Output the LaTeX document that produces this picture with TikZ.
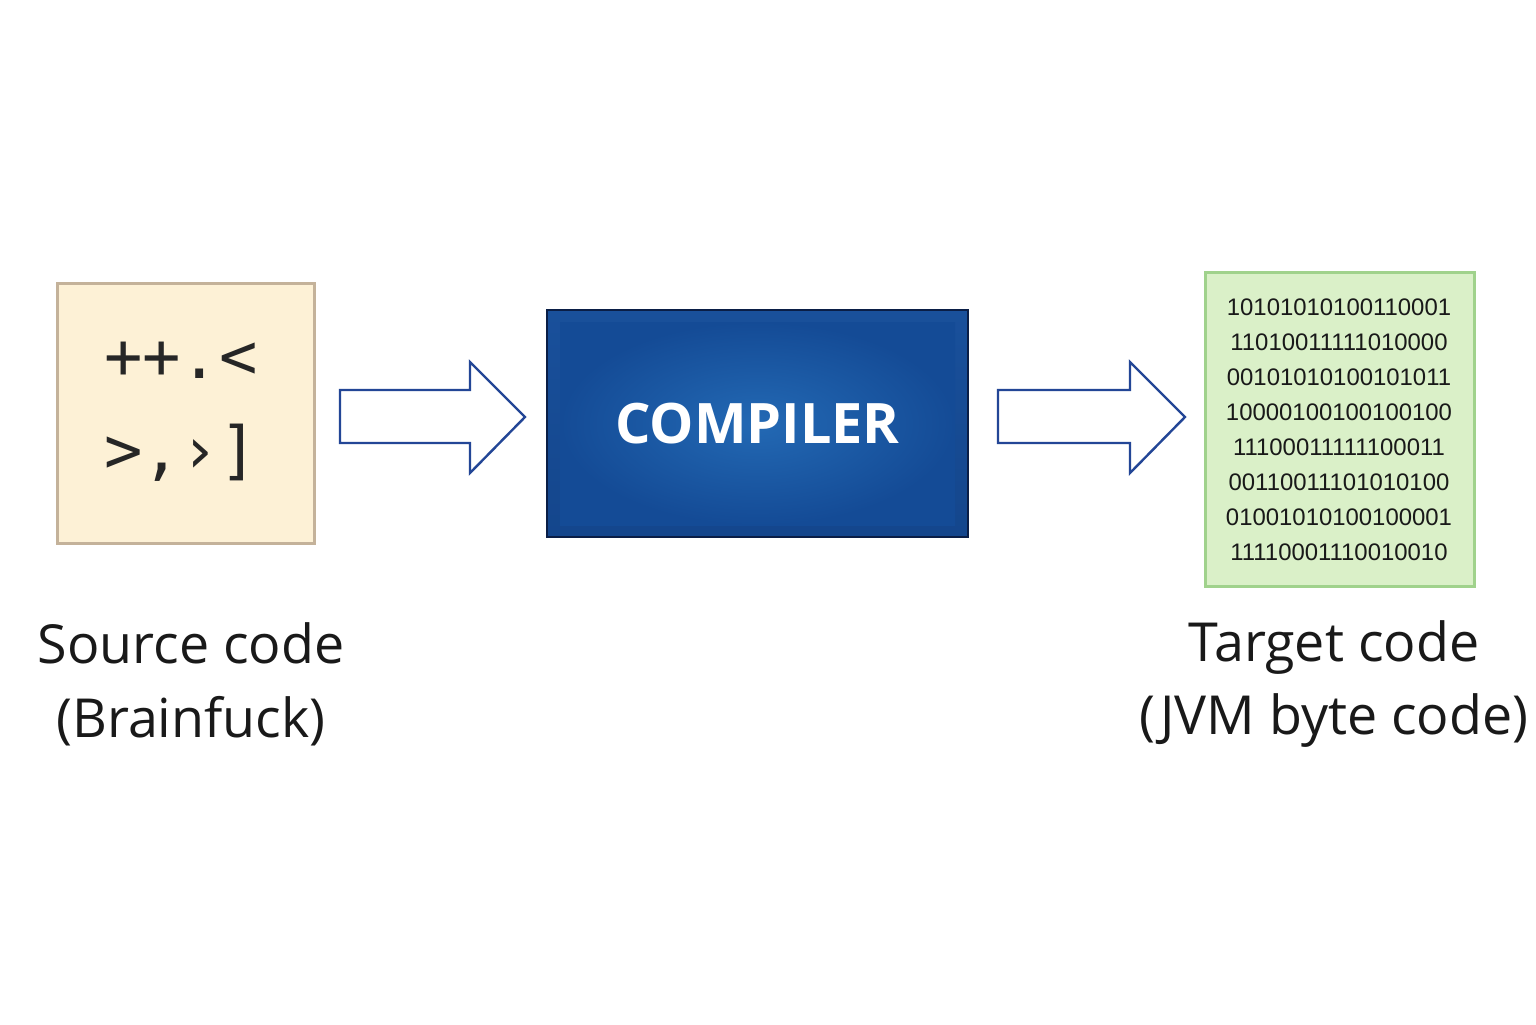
\documentclass[tikz,border=0pt]{standalone}
\usepackage{fontspec}
\setmainfont{Open Sans}
\newfontfamily\monofnt{DejaVu Sans Mono}
\newfontfamily\binfnt{Liberation Sans}
\begin{document}
\begin{tikzpicture}[x=1bp,y=-1bp,
  bigarrow/.style={draw={rgb,255:red,35;green,70;blue,150}, fill=white, line width=2.4bp, line join=miter},
  lbl/.style={font=\fontsize{54}{74}\selectfont, align=center, text=black!90}]
\useasboundingbox (0,0) rectangle (1536,1024);
\fill[white] (0,0) rectangle (1536,1024);
% source
\node[draw={rgb,255:red,196;green,178;blue,154}, line width=3bp, fill={rgb,255:red,253;green,241;blue,214},
  minimum width=256bp, minimum height=260bp, inner sep=0] (src) at (186,413) {};
\node[font=\monofnt\fontsize{64}{94}\selectfont, align=center, text=black!85] (srct) at (181,412) {++.<\\>,›]};
% compiler
\shade[top color={rgb,255:red,25;green,80;blue,155}, bottom color={rgb,255:red,20;green,70;blue,140}] (547,310) rectangle (968,537);
\shade[inner color={rgb,255:red,35;green,105;blue,180}, outer color={rgb,255:red,20;green,75;blue,150}] (560,322) rectangle (955,525);
\node[draw={rgb,255:red,10;green,30;blue,70}, line width=2.5bp, minimum width=421bp, minimum height=227bp, inner sep=0,
  font=\bfseries\fontsize{56}{70}\selectfont, text=white] (comp) at (757.5,423.5) {COMPILER};
% target
\node[draw={rgb,255:red,160;green,210;blue,140}, line width=3bp, fill={rgb,255:red,218;green,240;blue,200},
  minimum width=269bp, minimum height=314bp, inner sep=0] (tgt) at (1339.5,429) {};
\node[font=\binfnt\fontsize{24}{35.2}\selectfont, align=center, text=black!90] (bin) at (1339,430)
{10101010100110001\\11010011111010000\\00101010100101011\\10000100100100100\\11100011111100011\\00110011101010100\\01001010100100001\\11110001110010010};
% arrows
\draw[bigarrow] (340,390) -- (470,390) -- (470,362) -- (525,417) -- (470,473) -- (470,443) -- (340,443) -- cycle;
\draw[bigarrow] (998,390) -- (1130,390) -- (1130,362) -- (1185,417) -- (1130,473) -- (1130,443) -- (998,443) -- cycle;
% labels
\node[lbl] (srcl) at (191,684) {Source code\\(Brainfuck)};
\node[lbl] (tgtl) at (1334,684) {Target code\\(JVM byte code)};
\end{tikzpicture}
\end{document}
